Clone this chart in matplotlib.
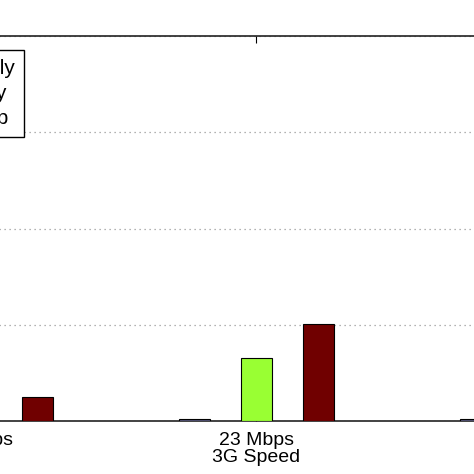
import matplotlib

matplotlib.use("Agg")
import matplotlib.pyplot as plt
import numpy as np

# bar chart data (groups partly outside the visible crop)
groups = ["12 Mbps", "23 Mbps", "42 Mbps"]
series = ["Cloud only", "Full proxy", "Via laptop"]
vals_a = [0.2, 0.2, 0.2]      # tiny grey-blue bars
vals_b = [3.0, 6.5, 12.0]     # green
vals_c = [2.5, 10.1, 16.0]    # dark red
colors = ["#56567a", "#99ff33", "#700000"]

plt.rcParams["font.family"] = ["Liberation Sans", "DejaVu Sans"]
fig = plt.figure(figsize=(4.74, 4.74), dpi=100)
# axes is wider than the figure: the reference is a crop of a larger plot
ax = fig.add_axes([-0.348, 0.1118, 1.778, 0.812])

x = np.arange(1, len(groups) + 1)
w = 0.11
for i, (vals, name) in enumerate(zip([vals_a, vals_b, vals_c], series)):
    ax.bar(x + (i - 1) * 0.22, vals, w, color=colors[i], edgecolor="black",
           linewidth=0.8, label=name, zorder=3)

ax.set_xlim(0.5, 3.5)
ax.set_ylim(0, 40)
ax.set_yticks([0, 10, 20, 30, 40])
ax.set_xticks(x)
ax.set_xticklabels(groups, fontsize=14)
ax.set_xlabel("3G Speed", fontsize=14, labelpad=0)
ax.yaxis.grid(True, linestyle=(0, (1, 3)), color="#999999", linewidth=0.9)
ax.tick_params(direction="in", top=True, right=True, length=5, width=0.8,
               pad=8)
for s in ax.spines.values():
    s.set_linewidth(1.2)
    s.set_color("#222222")

ax.legend(loc="upper right", bbox_to_anchor=(0.224, 0.964), fontsize=15,
          frameon=True, fancybox=False, edgecolor="black", framealpha=1,
          borderaxespad=0, handlelength=1.5, labelspacing=0.28,
          borderpad=0.45)

fig.savefig("out.png", dpi=100)
